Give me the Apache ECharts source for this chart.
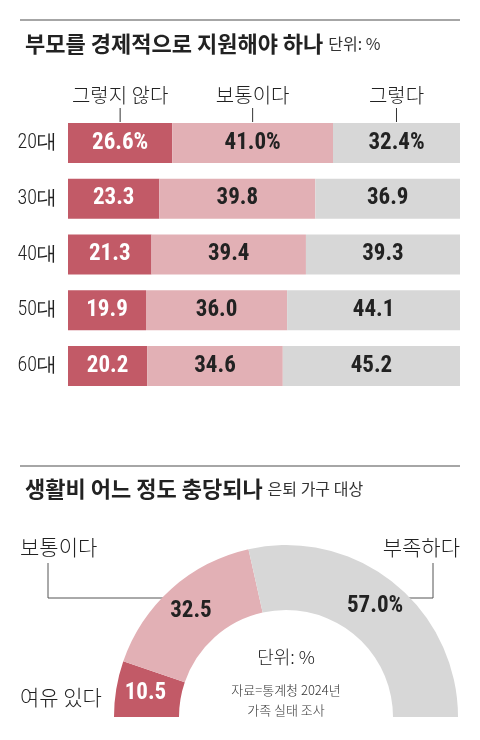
<!DOCTYPE html>
<html>
<head>
<meta charset="utf-8">
<script src="https://cdn.jsdelivr.net/npm/echarts@6/dist/echarts.min.js"></script>
<style>
  html, body { margin: 0; padding: 0; background: #fff; }
  #container { width: 480px; height: 740px; }
</style>
</head>
<body>
<div id="container"></div>
<script>
var ages = ['20대', '30대', '40대', '50대', '60대'];
var answerNames = ['그렇지 않다', '보통이다', '그렇다'];
var notAgree = [26.6, 23.3, 21.3, 19.9, 20.2];
var neutral = [41.0, 39.8, 39.4, 36.0, 34.6];
var agree = [32.4, 36.9, 39.3, 44.1, 45.2];

var livingNames = ['여유 있다', '보통이다', '부족하다'];
var livingValues = [10.5, 32.5, 57.0];

var RED = '#c25a67', PINK = '#e2b0b5', GRAY = '#d7d7d7';
var NUM_FONT = "'Roboto Condensed', 'Liberation Sans Narrow', Roboto, sans-serif";
var KR_FONT = "'Noto Sans CJK KR', sans-serif";

var dom = document.getElementById('container');
var myChart = echarts.init(dom);

function barLabel(color) {
    return {
        show: true,
        position: 'inside',
        color: color,
        fontFamily: NUM_FONT,
        fontSize: 23,
        fontWeight: 'bold',
        formatter: function (p) {
            return p.dataIndex === 0 ? p.value.toFixed(1) + '%' : p.value.toFixed(1);
        }
    };
}

var option = {
    backgroundColor: '#ffffff',
    animation: false,
    title: [
        {
            left: 20, top: 26,
            text: '{a|부모를 경제적으로 지원해야 하나} {b|단위: %}',
            textStyle: {
                rich: {
                    a: { fontFamily: KR_FONT, fontSize: 22, fontWeight: 'bold', color: '#222', lineHeight: 26 },
                    b: { fontFamily: KR_FONT, fontSize: 16, fontWeight: 'normal', color: '#333', lineHeight: 26 }
                }
            }
        },
        {
            left: 20, top: 471,
            text: '{a|생활비 어느 정도 충당되나} {b|은퇴 가구 대상}',
            textStyle: {
                rich: {
                    a: { fontFamily: KR_FONT, fontSize: 22, fontWeight: 'bold', color: '#222', lineHeight: 26 },
                    b: { fontFamily: KR_FONT, fontSize: 16, fontWeight: 'normal', color: '#333', lineHeight: 26 }
                }
            }
        }
    ],
    grid: { left: 68, right: 20, top: 115, height: 279, containLabel: false },
    xAxis: { type: 'value', min: 0, max: 100, show: false },
    yAxis: {
        type: 'category',
        inverse: true,
        data: ages,
        axisLine: { show: false },
        axisTick: { show: false },
        axisLabel: {
            margin: 11,
            color: '#222',
            fontFamily: NUM_FONT,
            fontWeight: 300,
            fontSize: 20
        }
    },
    series: [
        {
            name: answerNames[0], type: 'bar', stack: 'a', barWidth: 40,
            data: notAgree, itemStyle: { color: RED },
            label: barLabel('#ffffff'), emphasis: { disabled: true }
        },
        {
            name: answerNames[1], type: 'bar', stack: 'a', barWidth: 40,
            data: neutral, itemStyle: { color: PINK },
            label: barLabel('#222'), emphasis: { disabled: true }
        },
        {
            name: answerNames[2], type: 'bar', stack: 'a', barWidth: 40,
            data: agree, itemStyle: { color: GRAY },
            label: barLabel('#222'), emphasis: { disabled: true }
        },
        {
            type: 'pie',
            center: [286, 717],
            radius: [107, 172],
            startAngle: 180,
            endAngle: 0,
            clockwise: true,
            silent: true,
            data: livingNames.map(function (n, i) {
                return {
                    name: n, value: livingValues[i],
                    itemStyle: { color: [RED, PINK, GRAY][i] },
                    label: { color: i === 0 ? '#ffffff' : '#222' }
                };
            }),
            label: {
                show: true,
                position: 'inside',
                fontFamily: NUM_FONT,
                fontSize: 23,
                fontWeight: 'bold',
                formatter: function (p) {
                    return p.dataIndex === 2 ? p.value.toFixed(1) + '%' : p.value.toFixed(1);
                }
            },
            labelLine: { show: false }
        }
    ]
};

myChart.setOption(option, true);

// legend labels above the first row, centred on its segments
var graphics = [
    { type: 'line', shape: { x1: 20, y1: 20, x2: 460, y2: 20 }, style: { stroke: '#888', lineWidth: 1.5 } },
    { type: 'line', shape: { x1: 20, y1: 466, x2: 460, y2: 466 }, style: { stroke: '#888', lineWidth: 1.5 } }
];
var firstRow = [notAgree[0], neutral[0], agree[0]];
var acc = 0;
firstRow.forEach(function (v, i) {
    var mid = acc + v / 2;
    acc += v;
    var x = myChart.convertToPixel({ gridIndex: 0 }, [mid, ages[0]])[0];
    graphics.push({
        type: 'text', x: x, y: 95,
        style: { text: answerNames[i], fontFamily: KR_FONT, fontSize: 20, fontWeight: 300,
                 fill: '#222', align: 'center', verticalAlign: 'middle' }
    });
    graphics.push({
        type: 'line', shape: { x1: x, y1: 108, x2: x, y2: 122 },
        style: { stroke: '#333', lineWidth: 1 }
    });
});

// gauge annotations
var outerStyle = { fontFamily: KR_FONT, fontSize: 21, fontWeight: 300, fill: '#222', verticalAlign: 'middle' };
graphics.push(
    { type: 'text', x: 20, y: 547, style: Object.assign({ text: livingNames[1], align: 'left' }, outerStyle) },
    { type: 'text', x: 460, y: 547, style: Object.assign({ text: livingNames[2], align: 'right' }, outerStyle) },
    { type: 'text', x: 20, y: 697, style: Object.assign({ text: livingNames[0], align: 'left' }, outerStyle) },
    { type: 'polyline', shape: { points: [[48, 563], [48, 598], [163, 598]] }, style: { stroke: '#555', lineWidth: 1, fill: null } },
    { type: 'polyline', shape: { points: [[433, 563], [433, 598], [408, 598]] }, style: { stroke: '#555', lineWidth: 1, fill: null } },
    { type: 'text', x: 286, y: 657, style: { text: '단위: %', fontFamily: KR_FONT, fontSize: 18, fontWeight: 300, fill: '#222', align: 'center', verticalAlign: 'middle' } },
    { type: 'text', x: 286, y: 690, style: { text: '자료=통계청 2024년', fontFamily: KR_FONT, fontSize: 13, fontWeight: 300, fill: '#333', align: 'center', verticalAlign: 'middle' } },
    { type: 'text', x: 286, y: 710, style: { text: '가족 실태 조사', fontFamily: KR_FONT, fontSize: 13, fontWeight: 300, fill: '#333', align: 'center', verticalAlign: 'middle' } }
);

myChart.setOption({ graphic: graphics });
</script>
</body>
</html>
